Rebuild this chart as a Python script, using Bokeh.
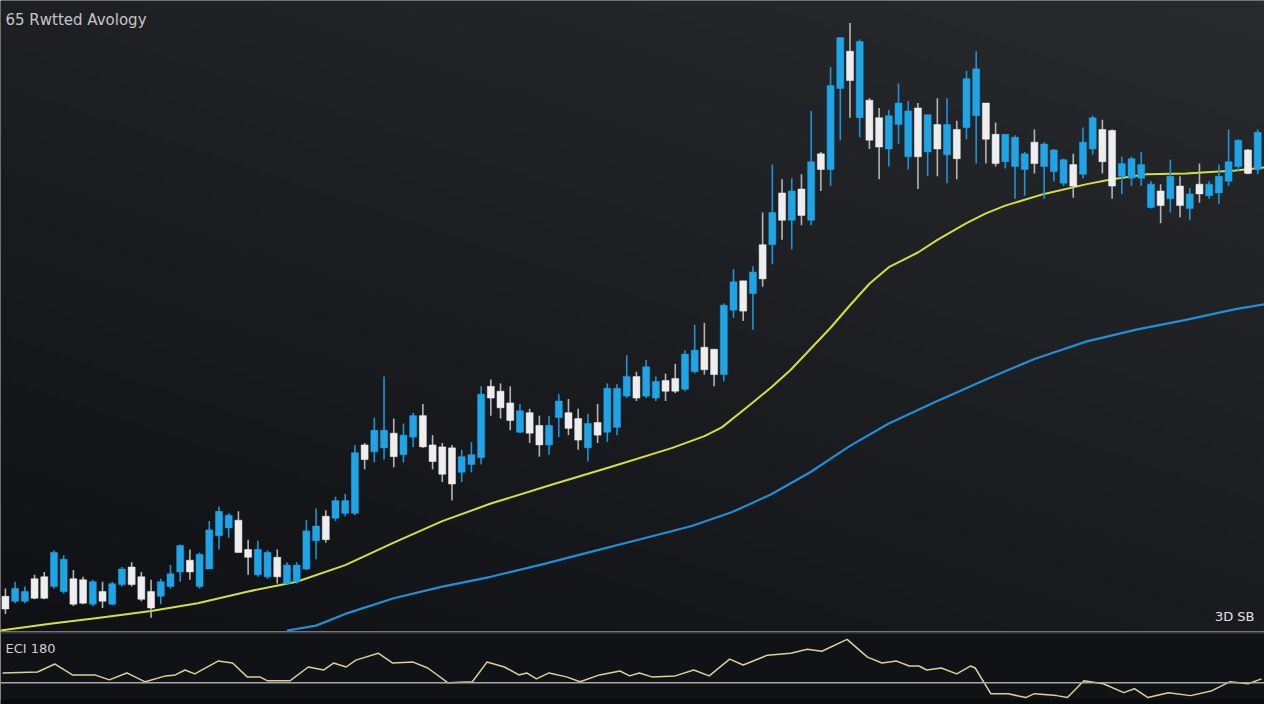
import numpy as np
from bokeh.plotting import figure
from bokeh.models import ColumnDataSource, Range1d, Label, Span
from bokeh.layouts import column
from bokeh.embed import file_html
from bokeh.resources import INLINE

# ---------------- data ----------------
opens = [35, 30, 30, 53, 55, 45, 40, 53, 52, 27,
         40, 27, 47, 65, 55, 40, 35, 45, 60, 72,
         45, 63, 97, 105, 113, 83, 57, 55, 75, 48,
         50, 63, 92, 117, 115, 120, 120, 190, 183, 187,
         202, 180, 198, 220, 190, 188, 187, 162, 170, 177,
         250, 245, 233, 203, 223, 210, 190, 218, 223, 217,
         187, 213, 203, 208, 240, 260, 240, 238, 256, 258,
         247, 265, 290, 288, 262, 328, 358, 345, 395, 395,
         448, 420, 452, 420, 488, 472, 555, 593, 525, 543,
         525, 493, 518, 485, 535, 490, 518, 487, 513, 515,
         527, 540, 508, 480, 475, 472, 500, 475, 470, 458,
         477, 467, 493, 513, 512, 465, 463, 463, 433, 450,
         442, 455, 432, 457, 445, 448, 460, 475, 492, 472]
highs = [43, 50, 45, 57, 60, 82, 77, 62, 55, 52,
         50, 50, 65, 70, 60, 52, 53, 67, 88, 83,
         80, 112, 127, 120, 122, 93, 92, 82, 83, 70,
         70, 113, 125, 123, 137, 140, 190, 192, 218, 260,
         217, 212, 223, 232, 200, 192, 190, 185, 193, 250,
         257, 253, 250, 232, 227, 220, 220, 242, 237, 227,
         222, 232, 253, 252, 282, 265, 277, 260, 263, 273,
         287, 313, 315, 288, 335, 370, 358, 373, 428, 477,
         462, 463, 467, 532, 490, 577, 607, 622, 605, 545,
         535, 533, 560, 542, 540, 528, 545, 545, 522, 573,
         593, 540, 520, 508, 507, 490, 513, 500, 493, 483,
         488, 515, 527, 523, 513, 485, 485, 490, 460, 457,
         482, 465, 453, 478, 460, 477, 513, 503, 493, 513]
lows = [17, 28, 28, 32, 32, 43, 38, 25, 27, 25,
        23, 26, 45, 45, 30, 13, 27, 43, 50, 52,
        43, 63, 83, 95, 80, 57, 55, 53, 48, 47,
        48, 62, 73, 90, 112, 117, 118, 165, 172, 175,
        167, 172, 188, 187, 165, 152, 133, 152, 162, 170,
        220, 217, 205, 202, 192, 178, 180, 198, 200, 185,
        173, 192, 193, 200, 238, 235, 238, 235, 235, 243,
        245, 263, 262, 250, 255, 320, 317, 308, 352, 375,
        400, 390, 415, 415, 450, 455, 502, 525, 505, 493,
        462, 475, 498, 472, 452, 465, 465, 458, 462, 503,
        478, 478, 475, 473, 442, 445, 468, 442, 460, 455,
        443, 463, 487, 468, 442, 447, 455, 455, 432, 417,
        428, 423, 420, 438, 442, 437, 455, 470, 467, 467]
closes = [22, 43, 40, 33, 33, 80, 73, 27, 28, 50,
          30, 48, 63, 47, 32, 23, 50, 58, 87, 60,
          78, 103, 122, 118, 80, 75, 83, 80, 55, 67,
          67, 102, 107, 93, 133, 133, 182, 175, 205, 205,
          178, 200, 220, 188, 173, 160, 150, 178, 180, 242,
          238, 228, 215, 225, 202, 190, 210, 235, 207, 195,
          212, 200, 248, 248, 260, 238, 270, 255, 245, 245,
          283, 287, 267, 262, 333, 357, 327, 367, 360, 428,
          420, 450, 425, 480, 472, 558, 607, 563, 603, 502,
          495, 527, 540, 532, 485, 528, 493, 518, 483, 565,
          575, 503, 478, 508, 505, 488, 478, 498, 492, 482,
          455, 500, 525, 480, 455, 478, 483, 477, 457, 435,
          465, 435, 447, 447, 457, 465, 480, 502, 468, 510]

# yellow and blue moving averages, read at bar positions
ma_fast_t = [-0.5, 4.6, 9.7, 15, 19.8, 25, 30, 35, 40, 45, 50, 56.5, 62.5, 68.7,
             72, 73.8, 76.8, 78.9, 80.9, 82.9, 85, 87, 89, 91, 94, 96, 99, 101,
             103, 107, 111.4, 114, 117.5, 121.6, 126.7, 129.7]
ma_fast = [0, 7, 13, 20, 28, 40, 50, 67, 90, 112, 130, 150, 168, 187,
           199, 208, 232, 249, 267, 288, 310, 333, 355, 372, 387, 400, 417, 427,
           435, 447, 457, 462, 467, 468, 471, 474]
ma_slow_t = [29, 32, 35, 40, 45, 50, 55.4, 60.5, 65.6, 70.7, 74.8, 78.8, 82.9, 87,
             91, 96, 101, 106, 111.4, 116.5, 121.6, 126.7, 129.7]
ma_slow = [0, 5, 17, 33, 45, 55, 68, 81, 94, 107, 121, 139, 162, 189,
           212, 235, 257, 278, 296, 308, 318, 329, 334]

# oscillator (lower panel)
osc_t = [-0.3, 3.3, 5.1, 6.9, 9.2, 10.7, 12.5, 14.4, 16.5, 17.5, 18.5, 19.5,
         21.9, 23.4, 24.9, 26.2, 27.0, 29.3, 31.2, 32.8, 33.8, 35.1, 36.1, 38.4,
         39.9, 42.0, 43.5, 45.6, 48.1, 49.6, 51.4, 52.9, 53.7, 54.7, 56.0, 57.8,
         59.2, 61.2, 63.3, 64.3, 65.3, 66.6, 69.0, 70.9, 72.5, 74.6, 76.0, 78.5,
         80.9, 82.6, 84.1, 86.7, 88.8, 90.3, 91.8, 93.1, 94.1, 94.9, 96.4, 98.0,
         99.4, 99.9, 101.5, 103.3, 105.1, 106.0, 108.3, 109.4, 111.1, 113.1, 115.2,
         116.3, 117.7, 119.8, 122.1, 124.3, 126.1, 128.0, 129.4]
osc = [32, 33, 41, 30, 30, 25, 32, 23, 29, 30, 35, 31,
       44, 42, 28, 28, 24, 24, 38, 35, 42, 38, 45, 52,
       42, 43, 37, 22, 23, 43, 38, 30, 32, 26, 32, 28,
       23, 30, 34, 29, 32, 28, 29, 35, 29, 46, 40, 50,
       52, 56, 54, 66, 48, 42, 44, 39, 39, 35, 37, 31,
       39, 37, 11, 11, 7, 11, 9, 7, 24, 21, 12,
       16, 7, 12, 9, 14, 23, 21, 26]
osc_ref = 22

title_text = "65 Rwtted Avology"
osc_label = "ECI 180"
corner_label = "3D SB"

# ---------------- layout ----------------
W = 1264
H_MAIN = 631
H_LOW = 73
X0, X1 = -0.51, 129.7

main = figure(width=W, height=H_MAIN, output_backend="svg", toolbar_location=None,
              x_range=Range1d(X0, X1), y_range=Range1d(-1, 645),
              min_border=0, background_fill_color="#1a1c20",
              border_fill_color="#1a1c20", outline_line_color=None)
main.axis.visible = False
main.grid.visible = False

# subtle background gradient (darker bottom-left, lighter top-right)
gh, gw = 120, 240
yy, xx = np.mgrid[0:gh, 0:gw]
f = 0.6 * (yy / (gh - 1)) + 0.4 * (xx / (gw - 1))   # row 0 = bottom
dark = np.array([16, 17, 21])
light = np.array([40, 42, 46])
rgb = dark[None, None, :] + f[:, :, None] * (light - dark)[None, None, :]
img = np.empty((gh, gw), dtype=np.uint32)
view = img.view(dtype=np.uint8).reshape((gh, gw, 4))
view[:, :, 0] = rgb[:, :, 0].astype(np.uint8)
view[:, :, 1] = rgb[:, :, 1].astype(np.uint8)
view[:, :, 2] = rgb[:, :, 2].astype(np.uint8)
view[:, :, 3] = 255
main.image_rgba(image=[img], x=X0, y=-1, dw=X1 - X0, dh=646)

N = len(opens)
inc = [c >= o for o, c in zip(opens, closes)]
src = ColumnDataSource(dict(
    x=list(range(N)),
    top=[max(o, c) for o, c in zip(opens, closes)],
    bottom=[min(o, c) for o, c in zip(opens, closes)],
    high=highs, low=lows,
    bc=["#1fa5e6" if u else "#eeeeee" for u in inc],
    wc=["#1b95d6" if u else "#b4b4b4" for u in inc],
))

main.line(ma_slow_t, ma_slow, line_color="#1e90d8", line_width=2.2, line_join="round")
main.line(ma_fast_t, ma_fast, line_color="#d4e03a", line_width=2, line_join="round")
main.segment(x0="x", y0="low", x1="x", y1="high", line_color="wc", line_width=1.6, source=src)
main.vbar(x="x", width=0.72, top="top", bottom="bottom", fill_color="bc",
          line_color="bc", line_width=0.5, source=src)

main.add_layout(Label(x=5, y=H_MAIN - 10, x_units="screen", y_units="screen",
                      text=title_text, text_font="DejaVu Sans", text_font_size="15px",
                      text_color="#c4c6c8", text_baseline="top"))
main.add_layout(Label(x=W - 10, y=8, x_units="screen", y_units="screen",
                      text=corner_label, text_font="DejaVu Sans", text_font_size="13px",
                      text_color="#e2e2e2", text_align="right", text_baseline="bottom"))

low = figure(width=W, height=H_LOW, output_backend="svg", toolbar_location=None,
             x_range=main.x_range, y_range=Range1d(0, 74),
             min_border=0, background_fill_color="#111216",
             border_fill_color="#111216", outline_line_color=None)
low.axis.visible = False
low.grid.visible = False
low.add_layout(Span(location=73, dimension="width", line_color="#3a3c41", line_width=2))
low.add_layout(Span(location=2.5, dimension="width", line_color="#0a0b0d", line_width=5))
low.add_layout(Span(location=osc_ref, dimension="width", line_color="#a8a8a8", line_width=1.5))
low.line(osc_t, osc, line_color="#d6d29a", line_width=1.5, line_join="round")
low.add_layout(Label(x=5, y=H_LOW - 9, x_units="screen", y_units="screen",
                     text=osc_label, text_font="DejaVu Sans", text_font_size="13px",
                     text_color="#d0d0d0", text_baseline="top"))

p = column(main, low, spacing=0)
open("out.html", "w").write(file_html(p, INLINE))
